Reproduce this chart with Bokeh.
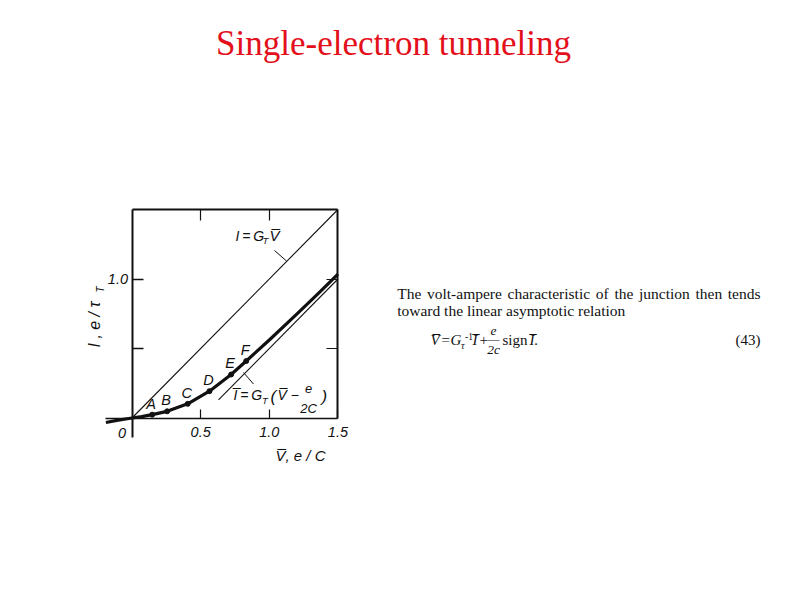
import math
from bokeh.plotting import figure
from bokeh.models import LinearAxis, FixedTicker, Label, Range1d, ColumnDataSource
from bokeh.core.properties import value
from bokeh.embed import file_html
from bokeh.resources import INLINE

# ---------------- data ----------------
curve_v = [-0.19, -0.10, 0.0, 0.07, 0.147, 0.256, 0.406, 0.564, 0.722, 0.832, 1.0, 1.2, 1.35, 1.5]
curve_i = [-0.032, -0.015, 0.0, 0.010, 0.024, 0.048, 0.102, 0.193, 0.313, 0.41, 0.561, 0.747, 0.89, 1.035]
point_names = ["A", "B", "C", "D", "E", "F"]
point_v = [0.147, 0.256, 0.406, 0.564, 0.722, 0.832]
point_i = [0.024, 0.048, 0.102, 0.193, 0.313, 0.41]
ohmic_v = [0.0, 1.5]
ohmic_i = [0.0, 1.5]
asym_v = [0.63, 1.5]
asym_i = [0.13, 1.0]
x_ticks = [0.5, 1.0, 1.5]
x_tick_labels = ["0.5", "1.0", "1.5"]
y_ticks = [0.5, 1.0]
y_tick_labels = ["", "1.0"]
frame_ticks = [0.5, 1.0]
box_max = 1.5

# ---------------- layout (page pixels) ----------------
FL, FT, FW, FH = 80, 20, 700, 470          # plotting frame on the page
MBR = 798 - FL - FW
MBB = 598 - FT - FH
OX, OY = 131.5, 417.5                       # page position of (0, 0)
SX, SY = 137.3, 139.0                       # pixels per unit
X0, X1 = (FL - OX) / SX, (FL + FW - OX) / SX
Y1, Y0 = (OY - FT) / SY, (OY - FT - FH) / SY


def px_x(px):
    return (px - OX) / SX


def px_y(py):
    return (OY - py) / SY


p = figure(frame_width=FW, frame_height=FH,
           x_range=Range1d(X0, X1), y_range=Range1d(Y0, Y1),
           x_axis_type=None, y_axis_type=None,
           output_backend="svg", toolbar_location=None,
           min_border_left=FL, min_border_right=MBR,
           min_border_top=FT, min_border_bottom=MBB,
           outline_line_color=None, background_fill_color="white",
           border_fill_color="white")

INK = "#111111"
TICK_FONT = dict(major_label_text_font="Liberation Sans",
                 major_label_text_font_style="italic",
                 major_label_text_font_size="14.5px",
                 major_label_text_color=INK)
common = dict(major_tick_out=0, minor_tick_in=0, minor_tick_out=0,
              axis_line_color=INK, major_tick_line_color=INK)

left = LinearAxis(ticker=FixedTicker(ticks=y_ticks), fixed_location=0,
                  bounds=(-0.14, box_max),
                  major_label_overrides=dict(zip(y_ticks, y_tick_labels)),
                  major_tick_in=11, axis_line_width=2, major_tick_line_width=1.5,
                  major_label_standoff=4, **TICK_FONT, **common)
p.add_layout(left, "left")

bottom = LinearAxis(ticker=FixedTicker(ticks=x_ticks), fixed_location=0,
                    bounds=(curve_v[0], box_max),
                    major_label_overrides=dict(zip(x_ticks, x_tick_labels)),
                    major_tick_in=9, axis_line_width=1.5, major_tick_line_width=1.2,
                    major_label_standoff=9, **TICK_FONT, **common)
p.add_layout(bottom, "below")

top = LinearAxis(ticker=FixedTicker(ticks=frame_ticks), fixed_location=box_max,
                 bounds=(0, box_max),
                 major_label_overrides={t: "" for t in frame_ticks},
                 major_tick_in=11, axis_line_width=2, major_tick_line_width=1.2,
                 **common)
p.add_layout(top, "above")

right = LinearAxis(ticker=FixedTicker(ticks=frame_ticks), fixed_location=box_max,
                   bounds=(0, box_max),
                   major_label_overrides={t: "" for t in frame_ticks},
                   major_tick_in=11, axis_line_width=2, major_tick_line_width=1.2,
                   **common)
p.add_layout(right, "right")

# ---------------- marks ----------------
p.line(ohmic_v, ohmic_i, line_color=INK, line_width=1.1)
p.line(asym_v, asym_i, line_color=INK, line_width=1.1)
p.line(curve_v, curve_i, line_color=INK, line_width=3.2, line_join="round")
pts = ColumnDataSource(dict(v=point_v, i=point_i, name=point_names))
p.scatter("v", "i", source=pts, size=5, color=INK)
p.text("v", "i", text="name", source=pts, x_offset=-1, y_offset=-11,
       text_font=value("Liberation Sans"), text_font_style="italic",
       text_font_size="14.5px", text_align="center", text_baseline="middle",
       text_color=INK)

# leader lines of the two formulas (page pixels)
lead_x0 = [px_x(274), px_x(243)]
lead_y0 = [px_y(250), px_y(372)]
lead_x1 = [px_x(286), px_x(253)]
lead_y1 = [px_y(260.5), px_y(383.5)]
p.segment(lead_x0, lead_y0, lead_x1, lead_y1, line_color=INK, line_width=1)


def text_at(px, py, text, size, font="Liberation Sans", style="italic",
            align="left", color=INK, angle=0.0):
    """Place a text whose alphabetic baseline passes through page point (px, py)."""
    d = 0.35 * size                      # baseline -> middle of the text box
    mx = px - math.sin(angle) * d
    my = py - math.cos(angle) * d
    p.add_layout(Label(x=px_x(mx), y=px_y(my), text=text,
                       text_font=font, text_font_style=style,
                       text_font_size=f"{size}px", text_color=color,
                       text_align=align, text_baseline="middle", angle=angle))


OV = "\u0305"
SERIF = "Liberation Serif"

# title
text_at(393, 55, "Single-electron tunneling", 35, font=SERIF,
        style="normal", align="center", color="#e3101b")

# axis texts
text_at(121.5, 438, "0", 14.5, align="center")
text_at(275, 460, "V" + OV + ",  e / C", 15)
text_at(99.5, 347, "I ,  e / \u03c4", 16, angle=math.pi / 2)
text_at(103.5, 292, "T", 10, angle=math.pi / 2)

# formula I = G_T V
text_at(235, 240, "I\u2009=\u2009G", 14)
text_at(262, 243.5, "T", 9.5)
text_at(269, 240, "V" + OV, 15)

# formula I = G_T (V - e/2C)
text_at(233, 399, "I" + OV + "\u2009=\u2009G", 14)
text_at(261.5, 403, "T", 9.5)
text_at(270, 402, "(", 17)
text_at(277, 399, "V" + OV + " \u2212", 14)
text_at(308, 393, "e", 13, align="center")
text_at(308, 412.5, "2C", 13, align="center")
text_at(321, 402, ")", 17)

# paragraph (serif, first line justified word by word)
line1_words = ["The", "volt-ampere", "characteristic", "of", "the", "junction", "then", "tends"]
line1_x = [396.7, 426.5, 507.0, 595.3, 613.9, 638.5, 695.0, 727.3]
for wx, w in zip(line1_x, line1_words):
    text_at(wx, 298, w, 15.5, font=SERIF, style="normal")
text_at(396.7, 315.5, "toward the linear asymptotic relation", 15.5,
        font=SERIF, style="normal")

# equation (43)
EQ = 345
text_at(430, EQ, "V" + OV, 15, font=SERIF)
text_at(441, EQ, "=", 15, font=SERIF, style="normal")
text_at(450, EQ, "G", 15, font=SERIF)
text_at(460.5, EQ + 3.5, "\u03c4", 10, font=SERIF)
text_at(464.5, EQ - 6, "-1", 9.5, font=SERIF, style="normal")
text_at(472, EQ, "I" + OV, 15, font=SERIF)
text_at(479, EQ, "+", 15, font=SERIF, style="normal")
text_at(493, EQ - 10, "e", 13.5, font=SERIF, align="center")
text_at(493, EQ - 2.7, "\u2014", 12, font=SERIF, style="normal", align="center")
text_at(493, EQ + 9, "2c", 13.5, font=SERIF, align="center")
text_at(502, EQ, "sign", 15, font=SERIF, style="normal")
text_at(529, EQ, "I" + OV + ".", 15, font=SERIF)
text_at(760, EQ, "(43)", 15, font=SERIF, style="normal", align="right")

open("out.html", "w").write(file_html(p, INLINE))
